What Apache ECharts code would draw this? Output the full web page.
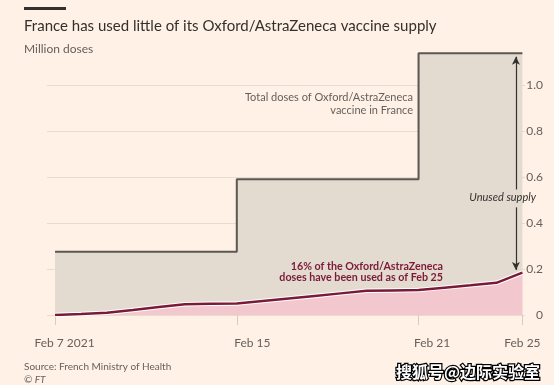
<!DOCTYPE html>
<html>
<head>
<meta charset="utf-8">
<script src="https://cdn.jsdelivr.net/npm/echarts@6/dist/echarts.min.js"></script>
<style>
html,body{margin:0;padding:0;background:#fff1e5;}
#main{width:554px;height:385px;}
</style>
</head>
<body>
<div id="main"></div>
<script>
// 横轴：按位置序号，0 = Feb 7 2021
let dayIndex = [0, 1, 2, 3, 4, 5, 6, 7, 8, 9, 10, 11, 12, 13, 14, 15, 16, 17, 18];
// 法国收到的阿斯利康疫苗总量（百万剂）
let totalDoses = [0.275, 0.275, 0.275, 0.275, 0.275, 0.275, 0.275, 0.59, 0.59, 0.59, 0.59, 0.59, 0.59, 0.59, 1.138, 1.138, 1.138, 1.138, 1.138];
// 已使用剂量（百万剂）
let usedDoses = [0, 0.004, 0.01, 0.022, 0.035, 0.047, 0.049, 0.05, 0.061, 0.072, 0.083, 0.094, 0.105, 0.107, 0.109, 0.119, 0.129, 0.14, 0.184];
let tickIndex = [0, 7, 14, 18];
let tickLabels = ['Feb 7 2021', 'Feb 15', 'Feb 21', 'Feb 25'];
let yTicks = [0, 0.2, 0.4, 0.6, 0.8, 1.0];

const FONT = 'Lato, "Open Sans", sans-serif';

function pairs(xs, ys) {
  return xs.map((x, i) => [x, ys[i]]);
}

// 文字注释，放在最上层
function note(x, y, text, font, fill, align) {
  return {
    type: 'text', x: x, y: y, z: 100,
    style: { text: text, font: font, fill: fill, textAlign: align || 'left', textVerticalAlign: 'middle' }
  };
}

let chart = echarts.init(document.getElementById('main'), null, { renderer: 'canvas' });

let option = {
  backgroundColor: '#fff1e5',
  animation: false,
  grid: { left: 47, right: 29, top: 39, bottom: 70 },
  xAxis: {
    type: 'value',
    min: -0.31,
    max: 18.1,
    axisLine: { show: false },
    splitLine: { show: false },
    axisTick: { show: true, length: 10, customValues: tickIndex, lineStyle: { color: '#d8cbbf', width: 1 } },
    axisLabel: {
      customValues: tickIndex,
      margin: 22,
      color: '#66605c',
      fontFamily: FONT,
      fontSize: 12,
      formatter: function (v) {
        let i = tickIndex.indexOf(v);
        return '{s' + i + '|' + tickLabels[i] + '}';
      },
      rich: {
        s0: { padding: [0, 0, 0, 19], color: '#66605c', fontFamily: FONT, fontSize: 12 },
        s1: { padding: [0, 0, 0, 31], color: '#66605c', fontFamily: FONT, fontSize: 12 },
        s2: { padding: [0, 0, 0, 27], color: '#66605c', fontFamily: FONT, fontSize: 12 },
        s3: { padding: [0, 0, 0, 0], color: '#66605c', fontFamily: FONT, fontSize: 12 }
      }
    }
  },
  yAxis: {
    type: 'value',
    position: 'right',
    min: 0,
    max: 1.2,
    interval: 0.2,
    axisLine: { show: false },
    axisTick: { show: false, customValues: yTicks },
    splitLine: { show: true, lineStyle: { color: '#e8dbcf', width: 1 } },
    axisLabel: {
      customValues: yTicks,
      align: 'right',
      margin: 18,
      color: '#66605c',
      fontFamily: FONT,
      fontSize: 12,
      formatter: function (v) { return v === 0 ? '0' : v.toFixed(1); }
    }
  },
  series: [
    {
      name: 'Total doses',
      type: 'line',
      step: 'end',
      data: pairs(dayIndex, totalDoses),
      symbol: 'none',
      lineStyle: { color: '#5c5753', width: 2 },
      areaStyle: { color: '#e3dad0', opacity: 1 },
      markLine: {
        silent: true,
        symbolSize: [6, 8],
        lineStyle: { color: '#33302e', width: 1.2, type: 'solid' },
        label: { show: false },
        data: [
          [{ coord: [17.75, 1.123], symbol: 'arrow' }, { coord: [17.75, 0.546], symbol: 'none' }],
          [{ coord: [17.75, 0.468], symbol: 'none' }, { coord: [17.75, 0.196], symbol: 'arrow' }]
        ]
      }
    },
    {
      name: 'outline',
      type: 'line',
      data: pairs(dayIndex, usedDoses),
      symbol: 'none',
      lineStyle: { color: '#ffffff', width: 4.5 }
    },
    {
      name: 'Used doses',
      type: 'line',
      data: pairs(dayIndex, usedDoses),
      symbol: 'none',
      lineStyle: { color: '#7b1a38', width: 2.5 },
      areaStyle: { color: '#f2c8ce', opacity: 1 }
    }
  ],
  graphic: [
    { type: 'rect', left: 24, top: 7, z: 100, shape: { width: 42, height: 3 }, style: { fill: '#33302e' } },
    note(24, 26, 'France has used little of its Oxford/AstraZeneca vaccine supply', '15px ' + FONT, '#33302e'),
    note(24, 49, 'Million doses', '12px ' + FONT, '#66605c'),
    note(413, 97, 'Total doses of Oxford/AstraZeneca', '11px ' + FONT, '#66605c', 'right'),
    note(413, 110, 'vaccine in France', '11px ' + FONT, '#66605c', 'right'),
    note(536, 197, 'Unused supply', 'italic 11px ' + FONT, '#33302e', 'right'),
    note(443, 266.5, '16% of the Oxford/AstraZeneca', '700 10.7px ' + FONT, '#7b1a38', 'right'),
    note(443, 278, 'doses have been used as of Feb 25', '700 10.7px ' + FONT, '#7b1a38', 'right'),
    note(24, 367, 'Source: French Ministry of Health', '10px ' + FONT, '#66605c'),
    note(24, 380, '© FT', 'italic 10px ' + FONT, '#66605c'),
    {
      type: 'text', x: 540, y: 372, z: 100,
      style: { text: '搜狐号@边际实验室', font: 'bold 16px "Noto Sans CJK SC"', fill: '#ffffff', stroke: '#000000', lineWidth: 2.5, textAlign: 'right', textVerticalAlign: 'middle' }
    }
  ]
};

chart.setOption(option);
</script>
</body>
</html>
